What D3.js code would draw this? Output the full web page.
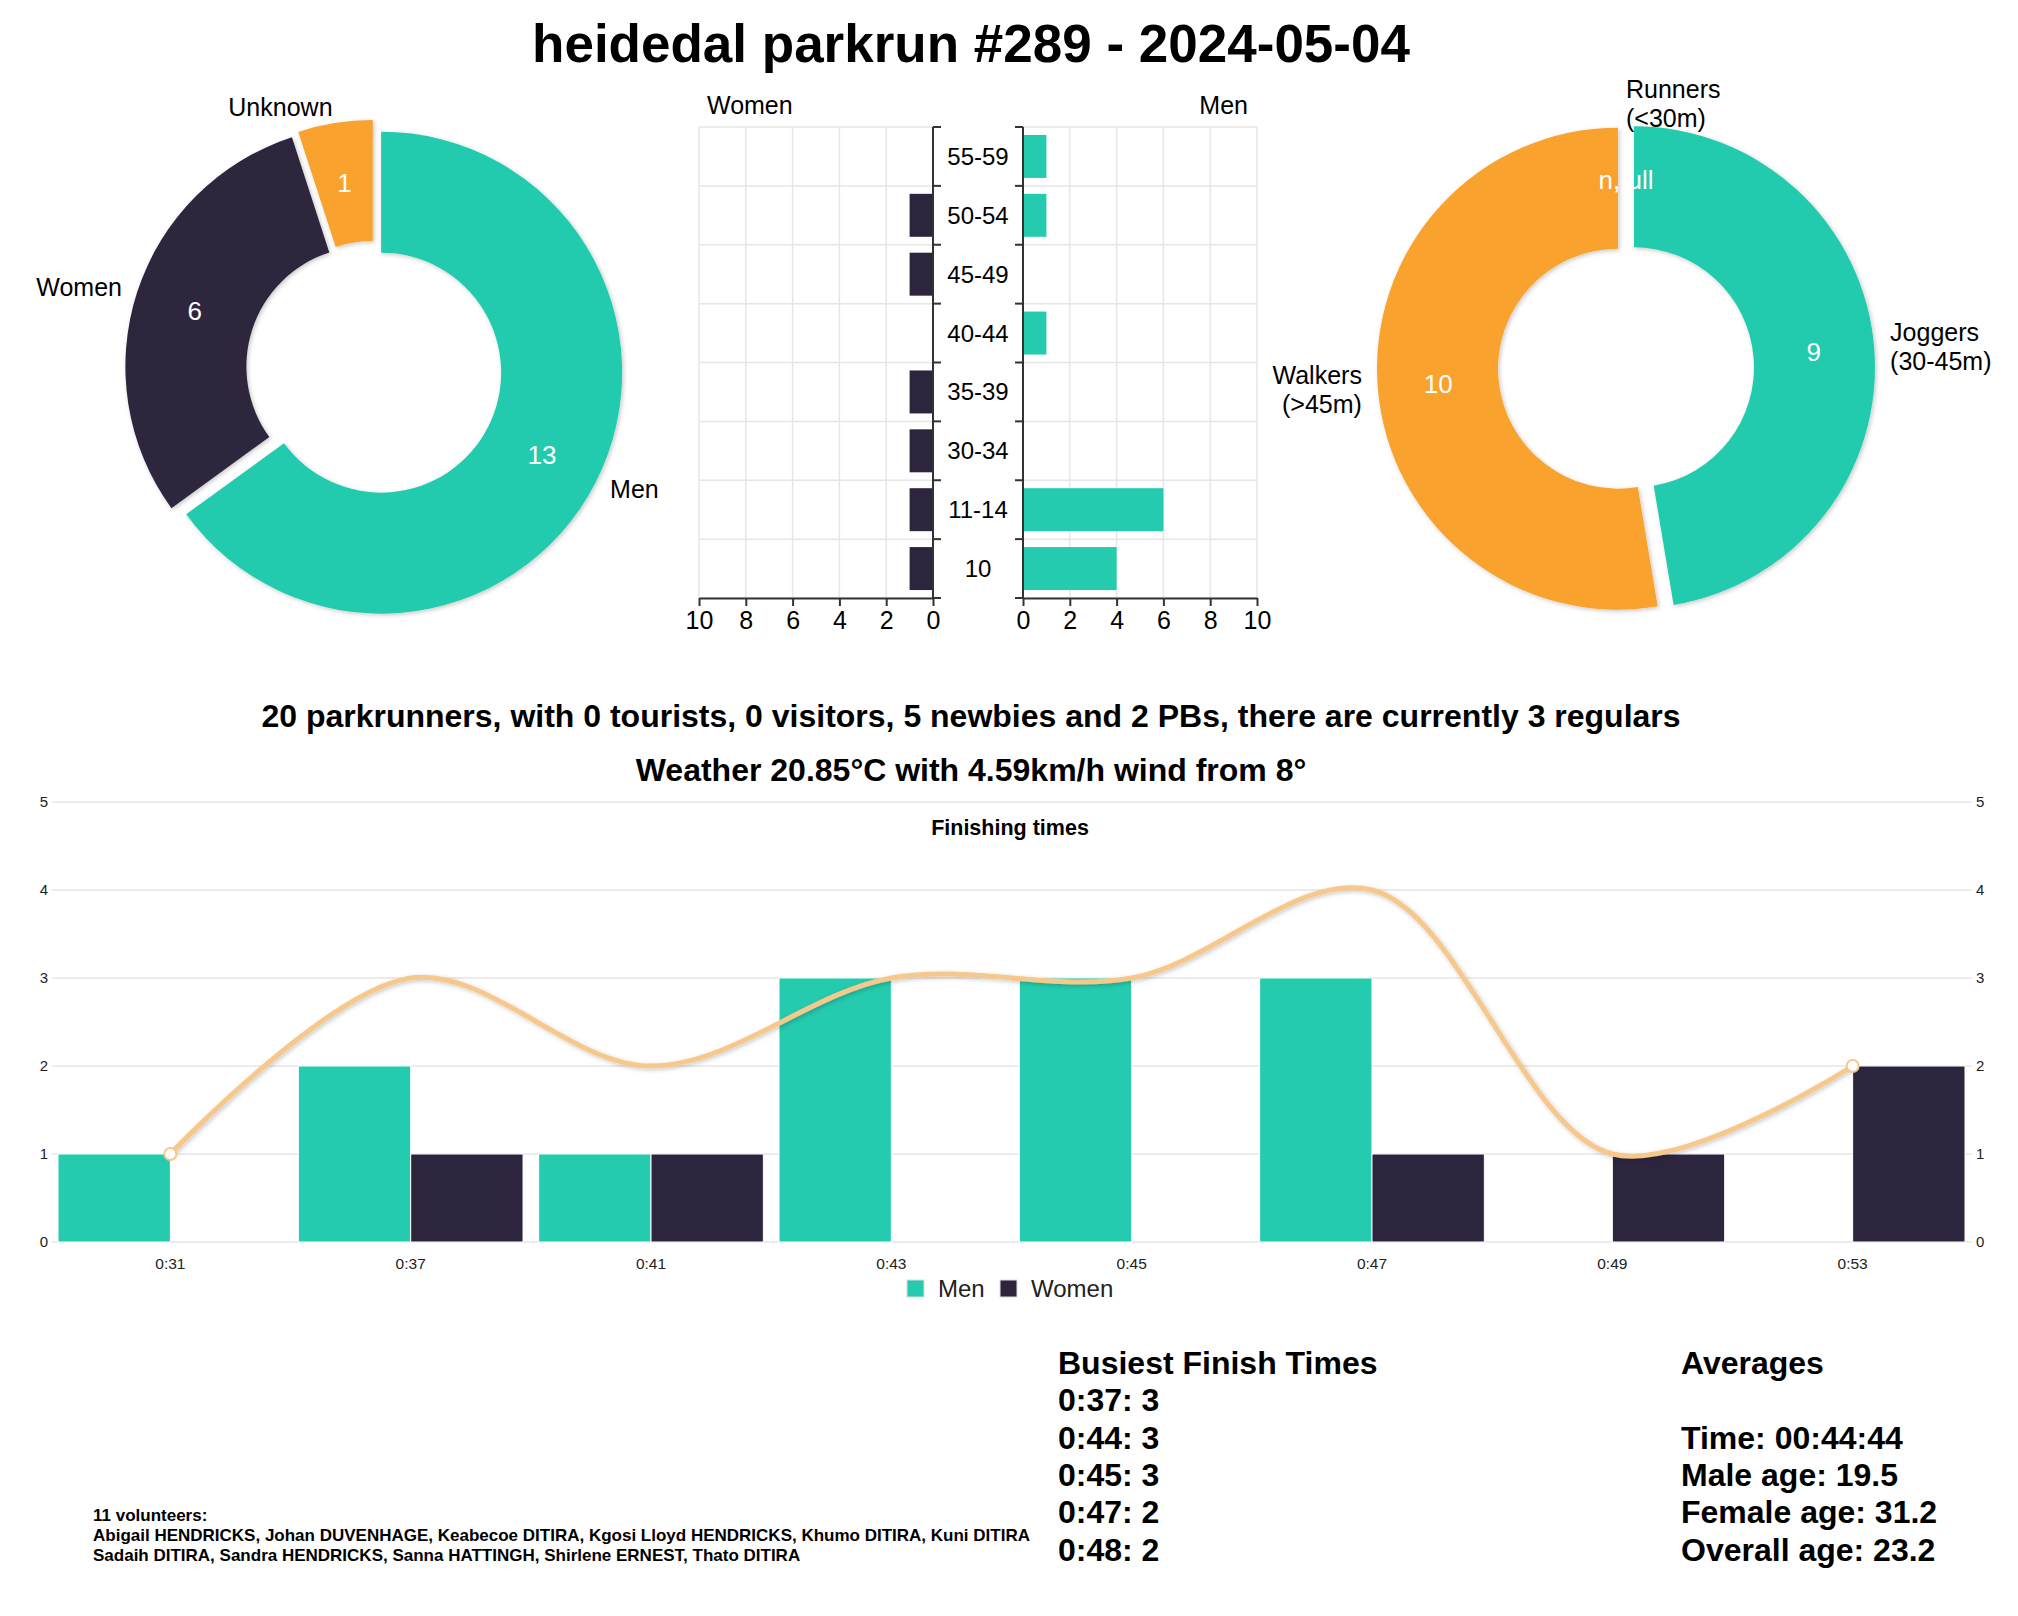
<!DOCTYPE html>
<html>
<head>
<meta charset="utf-8">
<script src="https://cdn.jsdelivr.net/npm/d3@7"></script>
<style>
  body { margin: 0; background: #fff; }
  svg text { font-family: "Liberation Sans", Arial, Helvetica, sans-serif; }
</style>
</head>
<body>
<script>
// data
const genderLabels = ["Men", "Women", "Unknown"];
const genderCounts = [13, 6, 1];
const paceLabels = ["Runners\n(<30m)", "Joggers\n(30-45m)", "Walkers\n(>45m)"];
const paceCounts = [null, 9, 10];

const ageGroups = ["55-59", "50-54", "45-49", "40-44", "35-39", "30-34", "11-14", "10"];
const womenByAge = [0, 1, 1, 0, 1, 1, 1, 1];
const menByAge = [1, 1, 0, 1, 0, 0, 6, 4];

const finishTimes = ["0:31", "0:37", "0:41", "0:43", "0:45", "0:47", "0:49", "0:53"];
const menTimes = [1, 2, 1, 3, 3, 3, 0, 0];
const womenTimes = [0, 1, 1, 0, 0, 1, 1, 2];
const totalTimes = [1, 3, 2, 3, 3, 4, 1, 2];

const titleText = "heidedal parkrun #289 - 2024-05-04";
const summaryText = "20 parkrunners, with 0 tourists, 0 visitors, 5 newbies and 2 PBs, there are currently 3 regulars";
const weatherText = "Weather 20.85°C with 4.59km/h wind from 8°";
const busiestLines = ["Busiest Finish Times", "0:37: 3", "0:44: 3", "0:45: 3", "0:47: 2", "0:48: 2"];
const averageLines = ["Averages", "", "Time: 00:44:44", "Male age: 19.5", "Female age: 31.2", "Overall age: 23.2"];
const volunteerLines = [
  "11 volunteers:",
  "Abigail HENDRICKS, Johan DUVENHAGE, Keabecoe DITIRA, Kgosi Lloyd HENDRICKS, Khumo DITIRA, Kuni DITIRA",
  "Sadaih DITIRA, Sandra HENDRICKS, Sanna HATTINGH, Shirlene ERNEST, Thato DITIRA"
];

const teal = "#24cbae";
const dark = "#2d253e";
const orange = "#f9a22e";
const gridCol = "#e6e6e6";
const lineCol = "#f6c88b";

const width = 2018;
const height = 1616;

const svg = d3.select("body")
  .append("svg")
  .attr("width", width)
  .attr("height", height);

svg.append("rect").attr("width", width).attr("height", height).attr("fill", "#fff");

const defs = svg.append("defs");
defs.append("filter").attr("id", "shadow")
  .attr("x", "-10%").attr("y", "-10%").attr("width", "130%").attr("height", "130%")
  .append("feDropShadow")
  .attr("dx", 1.5).attr("dy", 1.5).attr("stdDeviation", 2)
  .attr("flood-color", "#000").attr("flood-opacity", 0.22);

// title
svg.append("text")
  .attr("x", 971).attr("y", 62)
  .attr("text-anchor", "middle")
  .attr("font-size", 53).attr("font-weight", "bold")
  .text(titleText);

// donuts
function donut(cx, cy, labels, values, colors) {
  const items = labels.map((l, i) => ({ label: l, v: values[i], color: colors[i] }));
  const pie = d3.pie().sort(null).value(d => d.v || 0);
  const arcs = pie(items);
  const arc = d3.arc().innerRadius(120).outerRadius(241);
  const mid = d => (d.startAngle + d.endAngle) / 2;
  const off = (d, r) => [Math.sin(mid(d)) * r, -Math.cos(mid(d)) * r];

  const g = svg.append("g").attr("transform", `translate(${cx},${cy})`);

  g.selectAll("path")
    .data(arcs.filter(d => d.data.v))
    .enter()
    .append("path")
    .attr("d", arc)
    .attr("fill", d => d.data.color)
    .attr("transform", d => `translate(${off(d, 8)})`)
    .attr("filter", "url(#shadow)");

  // value labels inside
  g.selectAll(".val")
    .data(arcs)
    .enter()
    .append("text")
    .attr("class", "val")
    .attr("x", d => arc.centroid(d)[0] + off(d, 8)[0])
    .attr("y", d => arc.centroid(d)[1] + off(d, 8)[1] + 9)
    .attr("text-anchor", "middle")
    .attr("font-size", 26)
    .attr("fill", "#fff")
    .text(d => d.data.v == null ? "n, ull" : d.data.v);

  // category labels outside
  const lab = g.selectAll(".lab")
    .data(arcs)
    .enter()
    .append("text")
    .attr("class", "lab")
    .attr("font-size", 25)
    .attr("fill", "#000")
    .attr("text-anchor", d => Math.sin(mid(d)) < -0.01 ? "end" : "start");

  lab.each(function(d) {
    const lines = d.data.label.split("\n");
    const p = off(d, 265);
    const t = d3.select(this);
    lines.forEach((ln, i) => {
      t.append("tspan")
        .attr("x", p[0])
        .attr("y", p[1] - (lines.length - 1) * 29 / 2 + i * 29 + 9)
        .text(ln);
    });
  });
}

donut(374, 369, genderLabels, genderCounts, [teal, dark, orange]);
donut(1626, 368, paceLabels, paceCounts, [orange, teal, orange]);

// age pyramid
const yAge = d3.scaleBand()
  .domain(ageGroups)
  .range([127, 598])
  .paddingInner(0.27)
  .paddingOuter(0.135);
const xW = d3.scaleLinear().domain([0, 10]).range([933, 699]);
const xM = d3.scaleLinear().domain([0, 10]).range([1023, 1257]);
const halfPad = (yAge.step() - yAge.bandwidth()) / 2;
const bounds = ageGroups.map(a => yAge(a) - halfPad).concat([598]);
const xTicks = d3.range(0, 11, 2);

const pyr = svg.append("g");
[xW, xM].forEach(sc => {
  pyr.selectAll(null)
    .data(bounds)
    .enter()
    .append("line")
    .attr("x1", sc(0)).attr("x2", sc(10))
    .attr("y1", d => d).attr("y2", d => d)
    .attr("stroke", gridCol).attr("stroke-width", 1.5);
  pyr.selectAll(null)
    .data(xTicks.slice(1))
    .enter()
    .append("line")
    .attr("x1", d => sc(d)).attr("x2", d => sc(d))
    .attr("y1", 127).attr("y2", 598)
    .attr("stroke", gridCol).attr("stroke-width", 1.5);
});

pyr.selectAll(".wbar")
  .data(ageGroups)
  .enter()
  .append("rect")
  .attr("x", (a, i) => xW(womenByAge[i]))
  .attr("y", a => yAge(a))
  .attr("width", (a, i) => xW(0) - xW(womenByAge[i]))
  .attr("height", yAge.bandwidth())
  .attr("fill", dark);

pyr.selectAll(".mbar")
  .data(ageGroups)
  .enter()
  .append("rect")
  .attr("x", xM(0))
  .attr("y", a => yAge(a))
  .attr("width", (a, i) => xM(menByAge[i]) - xM(0))
  .attr("height", yAge.bandwidth())
  .attr("fill", teal);

// vertical axis lines with ticks between categories
[[xW, 1], [xM, -1]].forEach(([sc, dir]) => {
  pyr.append("line")
    .attr("x1", sc(0)).attr("x2", sc(0))
    .attr("y1", 127).attr("y2", 598)
    .attr("stroke", "#333").attr("stroke-width", 2);
  pyr.selectAll(null)
    .data(bounds)
    .enter()
    .append("line")
    .attr("x1", sc(0)).attr("x2", sc(0) + dir * 8)
    .attr("y1", d => d).attr("y2", d => d)
    .attr("stroke", "#333").attr("stroke-width", 2);
});

[xW, xM].forEach(sc => {
  const ax = pyr.append("g")
    .attr("transform", "translate(0,598)")
    .call(d3.axisBottom(sc).tickValues(xTicks).tickSize(8).tickSizeOuter(0).tickPadding(5));
  ax.attr("font-size", 25).attr("font-family", null);
  ax.selectAll("path").attr("stroke", "#333").attr("stroke-width", 2);
  ax.selectAll("line").attr("stroke", "#333").attr("stroke-width", 2);
  ax.selectAll("text").attr("fill", "#000");
});

pyr.selectAll(".agelab")
  .data(ageGroups)
  .enter()
  .append("text")
  .attr("x", 978)
  .attr("y", a => yAge(a) + yAge.bandwidth() / 2 + 8.5)
  .attr("text-anchor", "middle")
  .attr("font-size", 24)
  .text(a => a);

pyr.append("text").attr("x", 707).attr("y", 114).attr("font-size", 25).text("Women");
pyr.append("text").attr("x", 1248).attr("y", 114).attr("font-size", 25)
  .attr("text-anchor", "end").text("Men");

// summary lines
svg.append("text")
  .attr("x", 971).attr("y", 727)
  .attr("text-anchor", "middle")
  .attr("font-size", 32).attr("font-weight", "bold")
  .text(summaryText);
svg.append("text")
  .attr("x", 971).attr("y", 781)
  .attr("text-anchor", "middle")
  .attr("font-size", 32).attr("font-weight", "bold")
  .text(weatherText);

// finishing times chart
const xT = d3.scaleBand()
  .domain(finishTimes)
  .range([58, 1965])
  .paddingInner(0.065)
  .paddingOuter(0);
const xSub = d3.scaleBand()
  .domain(["Men", "Women"])
  .range([0, xT.bandwidth()]);
const yT = d3.scaleLinear().domain([0, 5]).range([1242, 802]);

const fc = svg.append("g");
fc.selectAll(".grid")
  .data(d3.range(0, 6))
  .enter()
  .append("line")
  .attr("x1", 52).attr("x2", 1972)
  .attr("y1", d => yT(d)).attr("y2", d => yT(d))
  .attr("stroke", gridCol).attr("stroke-width", 1.5);

const yl = fc.append("g").attr("transform", "translate(48,0)")
  .call(d3.axisLeft(yT).ticks(5).tickSize(0).tickPadding(0));
const yr = fc.append("g").attr("transform", "translate(1976,0)")
  .call(d3.axisRight(yT).ticks(5).tickSize(0).tickPadding(0));
[yl, yr].forEach(ax => {
  ax.attr("font-size", 15).attr("font-family", null);
  ax.select(".domain").remove();
  ax.selectAll("text").attr("fill", "#222");
});

const xa = fc.append("g").attr("transform", "translate(0,1242)")
  .call(d3.axisBottom(xT).tickSize(0).tickPadding(16));
xa.attr("font-size", 15.5).attr("font-family", null);
xa.select(".domain").remove();
xa.selectAll("text").attr("fill", "#222");

fc.selectAll(".mt")
  .data(finishTimes)
  .enter()
  .append("rect")
  .attr("x", t => xT(t) + xSub("Men"))
  .attr("y", (t, i) => yT(menTimes[i]))
  .attr("width", xSub.bandwidth())
  .attr("height", (t, i) => yT(0) - yT(menTimes[i]))
  .attr("fill", teal)
  .attr("stroke", "#fff").attr("stroke-width", 1);

fc.selectAll(".wt")
  .data(finishTimes)
  .enter()
  .append("rect")
  .attr("x", t => xT(t) + xSub("Women"))
  .attr("y", (t, i) => yT(womenTimes[i]))
  .attr("width", xSub.bandwidth())
  .attr("height", (t, i) => yT(0) - yT(womenTimes[i]))
  .attr("fill", dark)
  .attr("stroke", "#fff").attr("stroke-width", 1);

const line = d3.line()
  .x((d, i) => xT(finishTimes[i]) + xT.bandwidth() / 2)
  .y(d => yT(d))
  .curve(d3.curveCatmullRom);

fc.append("path")
  .datum(totalTimes)
  .attr("d", line)
  .attr("fill", "none")
  .attr("stroke", lineCol)
  .attr("stroke-width", 5)
  .attr("filter", "url(#shadow)");

fc.selectAll(".mk")
  .data(totalTimes.map((v, i) => ({ v, i })).filter(d => d.i === 0 || d.i === totalTimes.length - 1))
  .enter()
  .append("circle")
  .attr("cx", d => xT(finishTimes[d.i]) + xT.bandwidth() / 2)
  .attr("cy", d => yT(d.v))
  .attr("r", 6)
  .attr("fill", "#fff")
  .attr("stroke", lineCol)
  .attr("stroke-width", 2);

fc.append("text")
  .attr("x", 1010).attr("y", 835)
  .attr("text-anchor", "middle")
  .attr("font-size", 21.5).attr("font-weight", "bold")
  .text("Finishing times");

// legend
const legendItems = [["Men", teal, 907], ["Women", dark, 1000]];
const lg = fc.selectAll(".lg").data(legendItems).enter().append("g");
lg.append("rect")
  .attr("x", d => d[2]).attr("y", 1280)
  .attr("width", 17).attr("height", 17)
  .attr("fill", d => d[1])
  .attr("stroke", "#ddd").attr("stroke-width", 1);
lg.append("text")
  .attr("x", d => d[2] + 31).attr("y", 1297)
  .attr("font-size", 24).attr("fill", "#222")
  .text(d => d[0]);

// text blocks
svg.append("g").selectAll("text")
  .data(busiestLines)
  .enter()
  .append("text")
  .attr("x", 1058)
  .attr("y", (d, i) => 1374 + i * 37.3)
  .attr("font-size", 32).attr("font-weight", "bold")
  .text(d => d);

svg.append("g").selectAll("text")
  .data(averageLines)
  .enter()
  .append("text")
  .attr("x", 1681)
  .attr("y", (d, i) => 1374 + i * 37.3)
  .attr("font-size", 32).attr("font-weight", "bold")
  .text(d => d);

svg.append("g").selectAll("text")
  .data(volunteerLines)
  .enter()
  .append("text")
  .attr("x", 93)
  .attr("y", (d, i) => 1521 + i * 20)
  .attr("font-size", 17).attr("font-weight", "bold")
  .text(d => d);
</script>
</body>
</html>
